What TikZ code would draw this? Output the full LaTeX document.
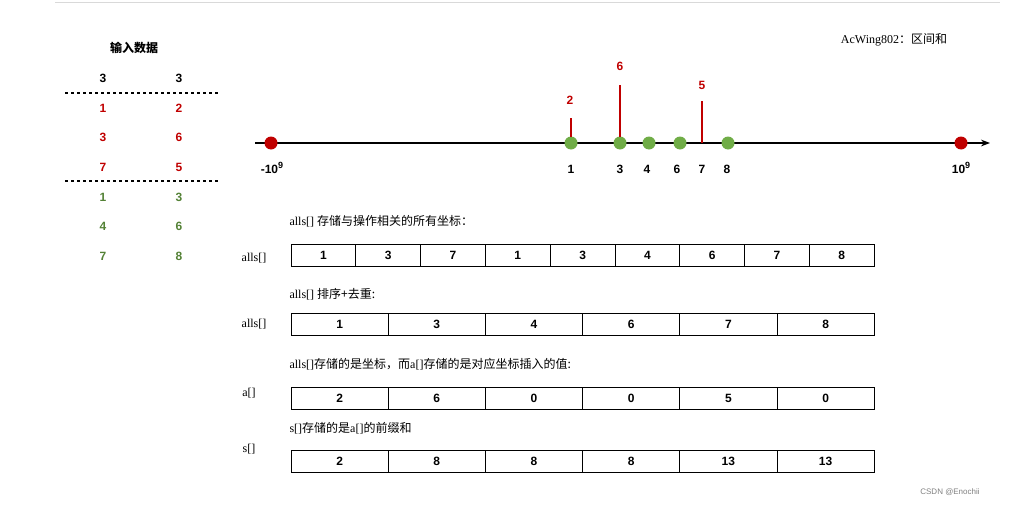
\documentclass[tikz,border=0pt]{standalone}
\usepackage{fontspec}
\setmainfont{Liberation Serif}
\newfontfamily\numf{Liberation Sans}
\newfontfamily\cjk{Noto Sans CJK SC}
\usetikzlibrary{arrows.meta}
\definecolor{rd}{HTML}{C00000}
\definecolor{gr}{HTML}{538135}
\definecolor{gd}{HTML}{70AD47}
\tikzset{num/.style={font=\numf\bfseries\fontsize{12}{14}\selectfont},
cell/.style={draw,line width=0.8pt,minimum height=22pt,inner sep=0pt,font=\numf\fontsize{12}{14}\selectfont\bfseries},
captxt/.style={anchor=west,font=\fontsize{12}{14}\selectfont},
lab/.style={font=\fontsize{12}{14}\selectfont}}
\begin{document}
\begin{tikzpicture}[x=1pt,y=-1pt]
\useasboundingbox (0,0) rectangle (1009,506);
\draw[gray!30] (55,2)--(1000,2);
% left table
\node[font=\cjk\bfseries\fontsize{12}{14}\selectfont] (t) at (134,48) {输入数据};
\foreach \a/\b/\y/\c [count=\i] in {3/3/78/black,1/2/108/rd,3/6/137/rd,7/5/167/rd,1/3/197/gr,4/6/226/gr,7/8/256/gr}{
 \node[num,text=\c] (l\i) at (103,\y) {\a};
 \node[num,text=\c] (r\i) at (179,\y) {\b};}
\draw[dashed,line width=1.4pt] (65,93)--(218,93);
\draw[dashed,line width=1.4pt] (65,181)--(218,181);
\node[font=\fontsize{12}{14}\selectfont] (ttl) at (894,40) {AcWing802\cjk：区间和};
% axis
\coordinate (as) at (255,143); \coordinate (ae) at (990,143);
\draw[line width=1.4pt,-{Stealth[length=9pt,open]}] (as)--(ae);
\foreach \x/\n in {571/d1,620/d3,649/d4,680/d6,728/d8}
 \fill[gd] (\x,143) circle (6.5) coordinate (\n);
\fill[rd] (271,143) circle (6.5); \fill[rd] (961,143) circle (6.5);
\draw[rd,line width=2.5pt] (571,118)--(571,137);
\draw[rd,line width=2.5pt] (620,85)--(620,137);
\draw[rd,line width=2.5pt] (702,101)--(702,143);
\node[num,text=rd] (v2) at (570,100) {2};
\node[num,text=rd] (v6) at (620,66) {6};
\node[num,text=rd] (v5) at (702,85) {5};
\foreach \x/\t in {571/1,620/3,647/4,677/6,702/7,727/8}
 \node[num] at (\x,169) {\t};
\node[num] (mn) at (272,168) {-10\raisebox{5pt}{\fontsize{9}{10}\selectfont 9}};
\node[num] (mx) at (961,168) {10\raisebox{5pt}{\fontsize{9}{10}\selectfont 9}};
% arrays
\node[captxt] (c1) at (286,221) {alls[] {\cjk 存储与操作相关的所有坐标：}};
\node[lab] (n1) at (254,258) {alls[]};
\foreach \v [count=\i from 0] in {1,3,7,1,3,4,6,7,8}
 \node[cell,minimum width=64.8pt] (A\i) at (291+32.4+64.8*\i,255) {\v};
\node[captxt] (c2) at (286,294) {alls[] {\cjk 排序+去重:}};
\node[lab] (n2) at (254,324) {alls[]};
\foreach \v [count=\i from 0] in {1,3,4,6,7,8}
 \node[cell,minimum width=97.2pt] (B\i) at (291+48.6+97.2*\i,324) {\v};
\node[captxt] (c3) at (286,364) {alls[]{\cjk 存储的是坐标，而}a[]{\cjk 存储的是对应坐标插入的值:}};
\node[lab] (n3) at (249,393) {a[]};
\foreach \v [count=\i from 0] in {2,6,0,0,5,0}
 \node[cell,minimum width=97.2pt] (C\i) at (291+48.6+97.2*\i,398) {\v};
\node[captxt] (c4) at (286,428) {s[]{\cjk 存储的是}a[]{\cjk 的前缀和}};
\node[lab] (n4) at (249,449) {s[]};
\foreach \v [count=\i from 0] in {2,8,8,8,13,13}
 \node[cell,minimum width=97.2pt] (D\i) at (291+48.6+97.2*\i,461) {\v};
\node[text=gray,font=\numf\fontsize{8}{10}\selectfont] (cs) at (950,492) {CSDN @Enochii};
\end{tikzpicture}
\end{document}
